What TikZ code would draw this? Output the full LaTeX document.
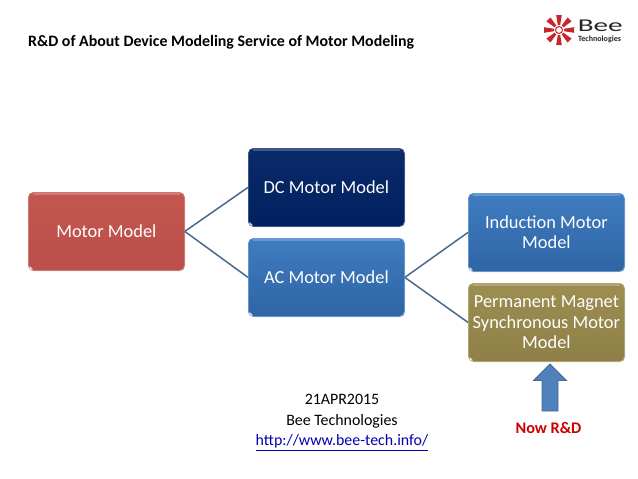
\documentclass[tikz,border=0pt]{standalone}
\usepackage{fontspec}
\setmainfont{Carlito}
\usetikzlibrary{shapes.arrows,calc,shadows}
\tikzset{
 box/.style={rounded corners=5pt,minimum width=156pt,minimum height=78pt,inner sep=0pt,anchor=north west,
   align=center,text=white,font=\fontsize{18.4}{20.5}\selectfont,draw=#1!80!white,line width=.8pt,
   drop shadow={shadow xshift=.6pt,shadow yshift=-.8pt,fill=black!35,opacity=.6}},
 link/.style={draw=linkblue,line width=1.5pt},
 caption/.style={font=\fontsize{15.9}{20.5}\selectfont,align=center,text=black},
}
\definecolor{linkblue}{HTML}{4A6A8C}
\definecolor{redA}{HTML}{C4564F}\definecolor{redB}{HTML}{BC4E4B}
\definecolor{navyA}{HTML}{0B2A69}\definecolor{navyB}{HTML}{00205F}
\definecolor{blueA}{HTML}{3F7CC0}\definecolor{blueB}{HTML}{2F65A5}
\definecolor{oliveA}{HTML}{9C8D50}\definecolor{oliveB}{HTML}{8F8049}
\definecolor{arrowblue}{HTML}{4F81BD}
\definecolor{beered}{HTML}{C8262B}
\begin{document}
\begin{tikzpicture}[x=1pt,y=-1pt]
\useasboundingbox (0,0) rectangle (638,479);
\fill[white] (0,0) rectangle (638,479);
\node[anchor=west,inner sep=0pt,font=\bfseries\fontsize{15.9}{18}\selectfont] (title) at (28,42) {R\&D of About Device Modeling Service of Motor Modeling};
% logo
\coordinate (hub) at (559,30);
\foreach \a in {0,45,...,315}{
 \fill[beered,rotate around={\a:(hub)}] ($(hub)+(5,-1.2)$) -- ($(hub)+(15,-2.8)$) -- ($(hub)+(15,2.8)$) -- ($(hub)+(5,1.2)$) -- cycle;
}
\draw[beered,line width=1pt] (hub) circle (3.5pt);
\node[anchor=west,inner sep=0pt,xscale=1.62,font=\fontsize{18}{18}\selectfont,text=black!85,transform shape] (bee) at (577.5,25.5) {Bee};
\node[anchor=west,inner sep=0pt,font=\bfseries\fontsize{8}{8}\selectfont,text=black!85] (tech) at (578,39.5) {Technologies};
% boxes
\node[box=redA,top color=redA,bottom color=redB] (motor) at (28,192) {Motor Model};
\node[box=navyA,top color=navyA,bottom color=navyB] (dc) at (248,148) {DC Motor Model};
\node[box=blueA,top color=blueA,bottom color=blueB] (ac) at (248,238) {AC Motor Model};
\node[box=blueA,top color=blueA,bottom color=blueB] (ind) at (468,193) {Induction Motor\\Model};
\node[box=oliveA,top color=oliveA,bottom color=oliveB] (pm) at (468,283) {Permanent Magnet\\Synchronous Motor\\Model};
% connectors
\draw[link] (motor.east) -- (dc.west);
\draw[link] (motor.east) -- (ac.west);
\draw[link] (ac.east) -- (ind.west);
\draw[link] (ac.east) -- (pm.west);
% glints
\foreach \n in {motor,dc,ac,ind,pm}{
 \fill[white,opacity=.85] ($(\n.south west)+(1.5,-1.5)$) -- ($(\n.south west)+(1.5,-5)$) -- ($(\n.south west)+(5,-1.5)$) -- cycle;
 \draw[white,opacity=.22,line width=1.6pt] ($(\n.north west)+(5,1.8)$) -- ($(\n.north east)+(-5,1.8)$);
}
% arrow
\coordinate (arrowtip) at (550,364);
\filldraw[fill=arrowblue,draw=linkblue,line width=.8pt] (arrowtip) -- (566.5,380.5) -- (558,380.5) -- (558,411) -- (542,411) -- (542,380.5) -- (533.5,380.5) -- cycle;
\node[inner sep=0pt,font=\bfseries\fontsize{16.2}{18}\selectfont,text=red!80!black] (now) at (548.5,428) {Now R\&D};
\node[caption,inner sep=0pt] (info) at (342,422.5) {21APR2015\\Bee Technologies\\{\color{blue!70!black}\underline{http://www.bee-tech.info/}}};
\end{tikzpicture}
\end{document}
